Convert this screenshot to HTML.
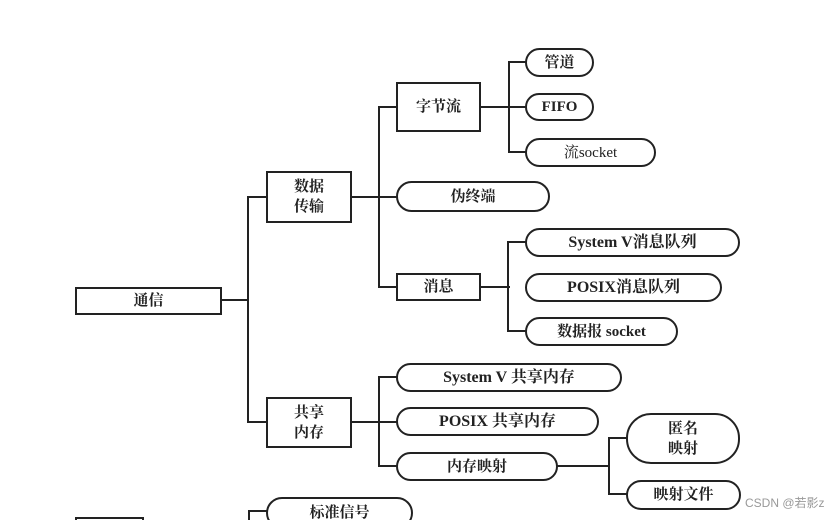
<!DOCTYPE html>
<html style="width:840px;height:520px;overflow:hidden"><head><meta charset="utf-8"><style>
body{margin:0;width:840px;height:520px;background:#fff;overflow:hidden;position:relative;font-family:"Liberation Serif","Noto Serif CJK SC",serif;font-weight:bold;color:#222}
.n{position:absolute;box-sizing:border-box;border:2px solid #222;display:flex;align-items:center;justify-content:center;text-align:center;font-size:15px;line-height:20px;background:#fff}
.p{border-radius:16px}
.l{position:absolute;background:#222}
</style></head><body>
<div class="l" style="left:221px;top:299px;width:28px;height:2px"></div>
<div class="l" style="left:247px;top:196px;width:2px;height:227px"></div>
<div class="l" style="left:247px;top:196px;width:20px;height:2px"></div>
<div class="l" style="left:247px;top:421px;width:20px;height:2px"></div>
<div class="l" style="left:351px;top:196px;width:46px;height:2px"></div>
<div class="l" style="left:378px;top:106px;width:2px;height:182px"></div>
<div class="l" style="left:378px;top:106px;width:19px;height:2px"></div>
<div class="l" style="left:378px;top:286px;width:19px;height:2px"></div>
<div class="l" style="left:480px;top:106px;width:30px;height:2px"></div>
<div class="l" style="left:508px;top:61px;width:2px;height:91px"></div>
<div class="l" style="left:508px;top:61px;width:18px;height:2px"></div>
<div class="l" style="left:508px;top:106px;width:18px;height:2px"></div>
<div class="l" style="left:508px;top:151px;width:18px;height:2px"></div>
<div class="l" style="left:480px;top:286px;width:30px;height:2px"></div>
<div class="l" style="left:507px;top:241px;width:2px;height:91px"></div>
<div class="l" style="left:507px;top:241px;width:19px;height:2px"></div>
<div class="l" style="left:507px;top:330px;width:19px;height:2px"></div>
<div class="l" style="left:351px;top:421px;width:28px;height:2px"></div>
<div class="l" style="left:378px;top:376px;width:2px;height:91px"></div>
<div class="l" style="left:378px;top:376px;width:19px;height:2px"></div>
<div class="l" style="left:378px;top:421px;width:19px;height:2px"></div>
<div class="l" style="left:378px;top:465px;width:19px;height:2px"></div>
<div class="l" style="left:557px;top:465px;width:53px;height:2px"></div>
<div class="l" style="left:608px;top:437px;width:2px;height:58px"></div>
<div class="l" style="left:608px;top:437px;width:19px;height:2px"></div>
<div class="l" style="left:608px;top:493px;width:19px;height:2px"></div>
<div class="l" style="left:248px;top:510px;width:2px;height:12px"></div>
<div class="l" style="left:248px;top:510px;width:19px;height:2px"></div>
<div class="n" style="left:75px;top:287px;width:147px;height:28px">通信</div>
<div class="n" style="left:266px;top:171px;width:86px;height:52px">数据<br>传输</div>
<div class="n" style="left:266px;top:397px;width:86px;height:51px">共享<br>内存</div>
<div class="n" style="left:396px;top:82px;width:85px;height:50px">字节流</div>
<div class="n p" style="left:396px;top:181px;width:154px;height:31px">伪终端</div>
<div class="n" style="left:396px;top:273px;width:85px;height:28px">消息</div>
<div class="n p" style="left:525px;top:48px;width:69px;height:29px">管道</div>
<div class="n p" style="left:525px;top:93px;width:69px;height:28px">FIFO</div>
<div class="n p" style="left:525px;top:138px;width:131px;height:29px;font-weight:normal">流socket</div>
<div class="n p" style="left:525px;top:228px;width:215px;height:29px;font-size:16px">System V消息队列</div>
<div class="n p" style="left:525px;top:273px;width:197px;height:29px;font-size:16px">POSIX消息队列</div>
<div class="n p" style="left:525px;top:317px;width:153px;height:29px">数据报 socket</div>
<div class="n p" style="left:396px;top:363px;width:226px;height:29px;font-size:16px">System V 共享内存</div>
<div class="n p" style="left:396px;top:407px;width:203px;height:29px;font-size:16px">POSIX 共享内存</div>
<div class="n p" style="left:396px;top:452px;width:162px;height:29px">内存映射</div>
<div class="n p" style="left:626px;top:413px;width:114px;height:51px;border-radius:25px">匿名<br>映射</div>
<div class="n p" style="left:626px;top:480px;width:115px;height:30px">映射文件</div>
<div class="n p" style="left:266px;top:497px;width:147px;height:32px">标准信号</div>
<div class="n" style="left:75px;top:517px;width:69px;height:20px"></div>
<div style="position:absolute;left:745px;top:494px;font:12px 'Liberation Sans','Noto Sans CJK SC',sans-serif;color:#999">CSDN @若影z</div>
</body></html>
